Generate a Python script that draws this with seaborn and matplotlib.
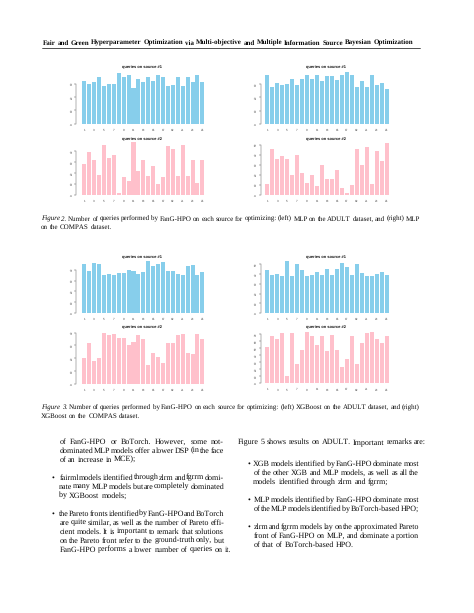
import numpy as np
import pandas as pd
import matplotlib
matplotlib.use("Agg")
import matplotlib.pyplot as plt
from matplotlib.lines import Line2D
import seaborn as sns

sns.set_theme(style="white")
plt.rcParams['font.family'] = ['Liberation Sans', 'DejaVu Sans']
plt.rcParams['text.hinting'] = 'no_hinting'
plt.rcParams['text.hinting_factor'] = 1

# ---------------- data ----------------
runs = list(range(1, 26))

mlp_adult_src1 = [32, 30, 31, 35, 28, 30, 30, 38, 35, 36, 27, 33, 31, 35, 32, 36, 35, 28, 29, 35, 28, 35, 31, 36, 31]
mlp_adult_src2 = [28, 39, 32, 18, 46, 34, 36, 2, 16, 13, 48, 22, 32, 17, 26, 10, 16, 45, 42, 17, 46, 17, 32, 11, 32]
mlp_compas_src1 = [37, 28, 31, 29, 30, 34, 29, 34, 37, 34, 37, 32, 36, 36, 33, 37, 39, 37, 28, 32, 28, 37, 29, 31, 26]
mlp_compas_src2 = [11, 46, 36, 39, 36, 20, 40, 22, 12, 20, 9, 30, 16, 16, 25, 7, 2, 10, 46, 30, 48, 11, 44, 34, 52]
xgb_adult_src1 = [45, 39, 46, 45, 35, 36, 35, 37, 37, 40, 39, 36, 38, 48, 43, 45, 47, 39, 39, 36, 35, 43, 44, 35, 38]
xgb_adult_src2 = [20, 32, 18, 20, 40, 38, 39, 36, 36, 30, 33, 38, 35, 15, 24, 21, 16, 32, 32, 38, 39, 24, 23, 39, 35]
xgb_compas_src1 = [44, 39, 40, 38, 53, 38, 50, 44, 38, 39, 42, 39, 45, 39, 45, 51, 47, 39, 50, 41, 38, 38, 40, 42, 39]
xgb_compas_src2 = [51, 67, 63, 71, 11, 71, 28, 47, 73, 67, 55, 67, 46, 69, 47, 23, 35, 67, 27, 58, 71, 73, 63, 58, 67]

title_src1 = "queries on source #1"
title_src2 = "queries on source #2"

header = ("Fair and Green Hyperparameter Optimization via Multi-objective and "
          "Multiple Information Source Bayesian Optimization")

cap2_lbl = "Figure 2."
cap2_l1 = "Number of queries performed by FanG-HPO on each source for optimizing: (left) MLP on the ADULT dataset, and (right) MLP"
cap2_l2 = "on the COMPAS dataset."
cap3_lbl = "Figure 3."
cap3_l1 = "Number of queries performed by FanG-HPO on each source for optimizing: (left) XGBoost on the ADULT dataset, and (right)"
cap3_l2 = "XGBoost on the COMPAS dataset."

left_col = [
    ("of FanG-HPO or BoTorch. However, some not-", True, False),
    ("dominated MLP models offer a lower DSP (in the face", True, False),
    ("of an increase in MCE);", False, False),
    None,
    ("fairml models identified through zlrm and fgrrm domi-", True, True),
    ("nate many MLP models but are completely dominated", True, False),
    ("by XGBoost models;", False, False),
    None,
    ("the Pareto fronts identified by FanG-HPO and BoTorch", True, True),
    ("are quite similar, as well as the number of Pareto effi-", True, False),
    ("cient models. It is important to remark that solutions", True, False),
    ("on the Pareto front refer to the ground-truth only, but", True, False),
    ("FanG-HPO performs a lower number of queries on it.", False, False),
]
right_intro = "Figure 5 shows results on ADULT. Important remarks are:"
right_col = [
    ("XGB models identified by FanG-HPO dominate most", True, True),
    ("of the other XGB and MLP models, as well as all the", True, False),
    ("models identified through zlrm and fgrrm;", False, False),
    None,
    ("MLP models identified by FanG-HPO dominate most", True, True),
    ("of the MLP models identified by BoTorch-based HPO;", True, False),
    None,
    ("zlrm and fgrrm models lay on the approximated Pareto", True, True),
    ("front of FanG-HPO on MLP, and dominate a portion", True, False),
    ("of that of BoTorch-based HPO.", False, False),
]

# ---------------- figure ----------------
W, H = 474, 613
DPI = 100
fig = plt.figure(figsize=(W / DPI, H / DPI), dpi=DPI)
fig.patch.set_facecolor("white")
renderer = fig.canvas.get_renderer()

BLUE = "#87CEEB"
PINK = "#FFC0CB"
BAR_W = 0.82


def draw_panel(values, color, title, bx0, bx1, yb, scale, ticks, axis_off_px, title_y):
    spacing = (bx1 - bx0) / 24.0
    left_px = bx0 - BAR_W / 2 * spacing
    right_px = bx1 + BAR_W / 2 * spacing
    ymax = max(max(values), ticks[-1]) * 1.04
    h_px = ymax * scale
    ax = fig.add_axes([left_px / W, 1 - yb / H, (right_px - left_px) / W, h_px / H])
    df = pd.DataFrame({"run": runs, "queries": values})
    sns.barplot(data=df, x="run", y="queries", color=color, saturation=1,
                width=BAR_W, edgecolor="none", linewidth=0, ax=ax)
    ax.set_xlim(-BAR_W / 2, 24 + BAR_W / 2)
    ax.set_ylim(0, ymax)
    ax.set_xlabel("")
    ax.set_ylabel("")
    ax.patch.set_alpha(0)
    for s in ["top", "right", "bottom"]:
        ax.spines[s].set_visible(False)
    sp = ax.spines["left"]
    sp.set_position(("outward", axis_off_px * 0.72))
    sp.set_bounds(0, ticks[-1])
    sp.set_color("#666666")
    sp.set_linewidth(0.35)
    ax.set_yticks(ticks)
    ax.set_yticklabels([str(t) for t in ticks], rotation=90, va="center",
                       fontsize=2.4, color="#444444")
    ax.tick_params(axis="y", length=1.8, width=0.35, pad=0.6, color="#666666", left=True)
    xt = list(range(0, 25, 2))
    ax.set_xticks(xt)
    ax.set_xticklabels([str(runs[i]) for i in xt], fontsize=2.4, color="#444444")
    ax.tick_params(axis="x", length=0, pad=3.6)
    fig.text(((left_px + right_px) / 2 - 1.5) / W, 1 - title_y / H, title,
             ha="center", va="center", fontsize=2.7, weight="bold", color="#111111")
    return ax


LX0, LX1 = 84.3, 202.4
RX0, RX1 = 267.3, 386.7

draw_panel(mlp_adult_src1, BLUE, title_src1, LX0, LX1, 123.7, 1.34, [0, 10, 20, 30], 5.8, 67.0)
draw_panel(mlp_adult_src2, PINK, title_src2, LX0, LX1, 194.7, 1.09, [0, 10, 20, 30, 40], 5.8, 139.3)
draw_panel(mlp_compas_src1, BLUE, title_src1, RX0, RX1, 124.0, 1.33, [0, 10, 20, 30], 4.3, 66.7)
draw_panel(mlp_compas_src2, PINK, title_src2, RX0, RX1, 194.7, 1.00, [0, 10, 20, 30, 40, 50], 4.3, 138.7)
draw_panel(xgb_adult_src1, BLUE, title_src1, LX0, LX1, 313.0, 1.083, [0, 10, 20, 30, 40], 5.8, 256.7)
draw_panel(xgb_adult_src2, PINK, title_src2, LX0, LX1, 383.7, 1.277, [0, 10, 20, 30, 40], 5.8, 327.3)
draw_panel(xgb_compas_src1, BLUE, title_src1, RX0, RX1, 313.0, 0.973, [0, 10, 20, 30, 40, 50], 4.3, 256.7)
draw_panel(xgb_compas_src2, PINK, title_src2, RX0, RX1, 383.3, 0.703, [0, 10, 20, 30, 40, 50, 60, 70], 4.3, 327.3)

# ---------------- page text ----------------
SERIF = "Liberation Serif"
INK = "#0a0a0a"


def E(text, st):
    t = fig.text(0, 0, text, **st)
    w = t.get_window_extent(renderer).width
    t.remove()
    return w


def fitted(st, text, target):
    s = dict(st)
    s["size"] = s["size"] * target / E(text, s)
    return s


BODY = fitted(dict(family=SERIF, size=6.0, color=INK), right_intro, 178.5)
CAP = fitted(dict(family=SERIF, size=6.0, color=INK), cap2_lbl + " " + cap2_l1, 376.0)
HEAD = fitted(dict(family=SERIF, weight="bold", size=6.0, color=INK), header, 370.0)


def put_segments(segs, x0, x1, y_base, justify):
    """segs: list of (text, style). Each word is its own text object, placed at
    the offset it has inside the whole-line layout, plus justification stretch."""
    seg_words = [s.split() for s, _ in segs]
    nwords = sum(len(ws) for ws in seg_words)
    st_last = segs[-1][1]
    space = E("n n", st_last) - E("nn", st_last)
    seg_w = [E(" ".join(ws), st) for ws, (_, st) in zip(seg_words, segs)]
    natural = sum(seg_w) + space * (len(segs) - 1)
    extra = (x1 - x0 - natural) / (nwords - 1) if (justify and nwords > 1) else 0.0
    k = 0
    xs = x0
    for ws, (_, st), sw in zip(seg_words, segs, seg_w):
        for j, w in enumerate(ws):
            off = E(" ".join(ws[:j + 1]), st) - E(w, st)
            fig.text((xs + off + k * extra) / W, 1 - y_base / H, w,
                     ha="left", va="baseline", **st)
            k += 1
        xs += sw + space


# header
put_segments([(header, HEAD)], 43, 413, 44.6, True)
fig.add_artist(Line2D([42 / W, 420 / W], [1 - 47.6 / H] * 2, color=INK, lw=0.5))

# captions
put_segments([(cap2_lbl, dict(CAP, style="italic")), (cap2_l1, CAP)], 41, 420, 220.6, True)
put_segments([(cap2_l2, CAP)], 41, 420, 229.4, False)
put_segments([(cap3_lbl, dict(CAP, style="italic")), (cap3_l1, CAP)], 41, 420, 409.2, True)
put_segments([(cap3_l2, CAP)], 41, 420, 418.2, False)

# body columns
LINE = 9.0


def put_column(lines, y0, xb, xt0, xt1):
    y = y0
    for item in lines:
        if item is None:
            y += LINE
            continue
        text, just, bullet = item
        if bullet:
            fig.text(xb / W, 1 - y / H, "\u2022", ha="left", va="baseline", **BODY)
        put_segments([(text, BODY)], xt0, xt1, y, just)
        y += LINE


put_column(left_col, 443.6, 52.0, 59.3, 224.0)
put_segments([(right_intro, BODY)], 238.0, 418.0, 444.0, False)
put_column(right_col, 465.8, 247.3, 253.3, 419.0)

fig.savefig("out.png", dpi=DPI, facecolor="white")
